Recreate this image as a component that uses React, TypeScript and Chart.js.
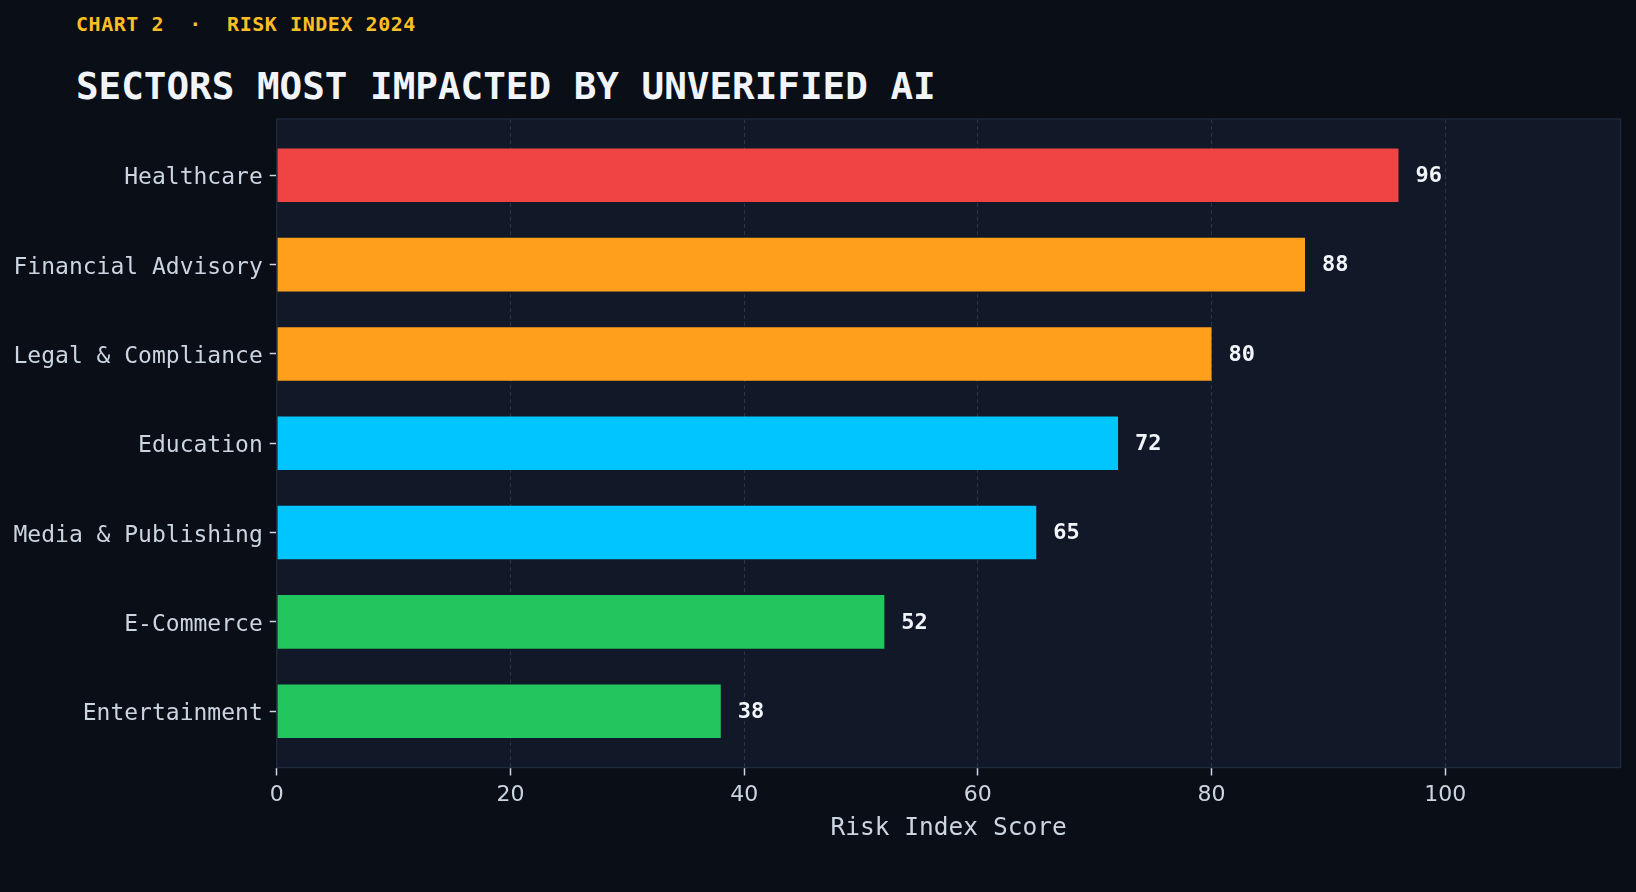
import React, { useEffect, useRef } from "react";
import { Chart, registerables } from "chart.js";

Chart.register(...registerables);

const sectors = [
  "Healthcare",
  "Financial Advisory",
  "Legal & Compliance",
  "Education",
  "Media & Publishing",
  "E-Commerce",
  "Entertainment",
];
const riskScores = [96, 88, 80, 72, 65, 52, 38];
const barColors = ["#ef4444", "#ff9f1c", "#ff9f1c", "#00c5ff", "#00c5ff", "#22c55e", "#22c55e"];
const xTicks = [0, 20, 40, 60, 80, 100];
const xMin = 0;
const xMax = 115;
const subtitleText = "CHART 2  ·  RISK INDEX 2024";
const titleText = "SECTORS MOST IMPACTED BY UNVERIFIED AI";
const xAxisTitle = "Risk Index Score";

const PAGE_BG = "#0a0e17";
const PLOT_BG = "#111827";
const FRAME = "#1e293b";
const MONO = "'DejaVu Sans Mono', monospace";
const SANS = "'DejaVu Sans', sans-serif";

const plotFrame = {
  id: "plotFrame",
  beforeDraw(chart: any) {
    const { ctx, chartArea } = chart;
    ctx.save();
    ctx.fillStyle = PLOT_BG;
    ctx.fillRect(chartArea.left, chartArea.top, chartArea.right - chartArea.left, chartArea.bottom - chartArea.top);
    ctx.restore();
  },
  afterDatasetsDraw(chart: any) {
    const { ctx, chartArea } = chart;
    ctx.save();
    ctx.strokeStyle = FRAME;
    ctx.lineWidth = 1.5;
    ctx.strokeRect(chartArea.left, chartArea.top, chartArea.right - chartArea.left, chartArea.bottom - chartArea.top);
    ctx.restore();
  },
};

const valueLabels = {
  id: "valueLabels",
  afterDatasetsDraw(chart: any) {
    const { ctx } = chart;
    const meta = chart.getDatasetMeta(0);
    ctx.save();
    ctx.fillStyle = "#f1f5f9";
    ctx.font = `bold 22px ${MONO}`;
    ctx.textAlign = "left";
    ctx.textBaseline = "middle";
    meta.data.forEach((bar: any, i: number) => {
      ctx.fillText(String(riskScores[i]), bar.x + 17, bar.y + 1);
    });
    ctx.restore();
  },
};

export default function App() {
  const canvasRef = useRef<HTMLCanvasElement | null>(null);

  useEffect(() => {
    document.body.style.margin = "0";
    document.body.style.background = PAGE_BG;
    const canvas = canvasRef.current;
    if (!canvas) return;
    const chart = new Chart(canvas, {
      type: "bar",
      data: {
        datasets: [
          {
            data: riskScores.map((v, i) => ({ x: v, y: i })),
            backgroundColor: barColors,
            borderWidth: 0,
            categoryPercentage: 1,
            barPercentage: 0.6,
          },
        ],
      },
      options: {
        indexAxis: "y",
        animation: false,
        responsive: false,
        maintainAspectRatio: false,
        devicePixelRatio: 1,
        layout: { padding: { left: 6.5, right: 15.5, top: 119, bottom: 47.6 } },
        plugins: {
          legend: { display: false },
          tooltip: { enabled: false },
          title: { display: false },
        },
        scales: {
          x: {
            type: "linear",
            min: xMin,
            max: xMax,
            afterBuildTicks: (scale: any) => {
              scale.ticks = xTicks.map((v) => ({ value: v }));
            },
            ticks: {
              color: "#cbd5e1",
              font: { family: SANS, size: 22 },
              padding: 7,
            },
            grid: {
              color: "#283548",
              lineWidth: 1,
              drawTicks: true,
              tickLength: 8,
              tickColor: "#cbd5e1",
              tickWidth: 1.5,
            },
            border: { display: false, dash: [4, 3] },
            title: {
              display: true,
              text: xAxisTitle,
              color: "#cbd5e1",
              font: { family: MONO, size: 24.5, lineHeight: 1.0 },
              padding: { top: 0, bottom: 4 },
            },
          },
          y: {
            type: "linear",
            reverse: true,
            offset: false,
            min: -0.63,
            max: sectors.length - 1 + 0.63,
            afterBuildTicks: (scale: any) => {
              scale.ticks = sectors.map((_, i) => ({ value: i }));
            },
            ticks: {
              color: "#cbd5e1",
              font: { family: MONO, size: 23 },
              padding: 7,
              labelOffset: 3,
              callback: (value: any) => sectors[value as number] ?? "",
            },
            grid: {
              offset: false,
              drawOnChartArea: false,
              drawTicks: true,
              tickLength: 7,
              tickColor: "#cbd5e1",
              tickWidth: 1.5,
            },
            border: { display: false },
          },
        },
      },
      plugins: [plotFrame, valueLabels],
    });
    return () => chart.destroy();
  }, []);

  return (
    <div style={{ position: "relative", width: 1636, height: 892, background: PAGE_BG, overflow: "hidden" }}>
      <div
        style={{
          position: "absolute",
          left: 76,
          top: 10,
          fontFamily: MONO,
          fontWeight: "bold",
          fontSize: 20,
          letterSpacing: 0.55,
          color: "#fbbf24",
          whiteSpace: "pre",
          lineHeight: "28px",
        }}
      >
        {subtitleText}
      </div>
      <div
        style={{
          position: "absolute",
          left: 76,
          top: 63,
          fontFamily: MONO,
          fontWeight: "bold",
          fontSize: 37.6,
          color: "#f1f5f9",
          whiteSpace: "pre",
          lineHeight: "46px",
        }}
      >
        {titleText}
      </div>
      <canvas ref={canvasRef} width={1636} height={892} style={{ position: "absolute", left: 0, top: 0 }} />
    </div>
  );
}
